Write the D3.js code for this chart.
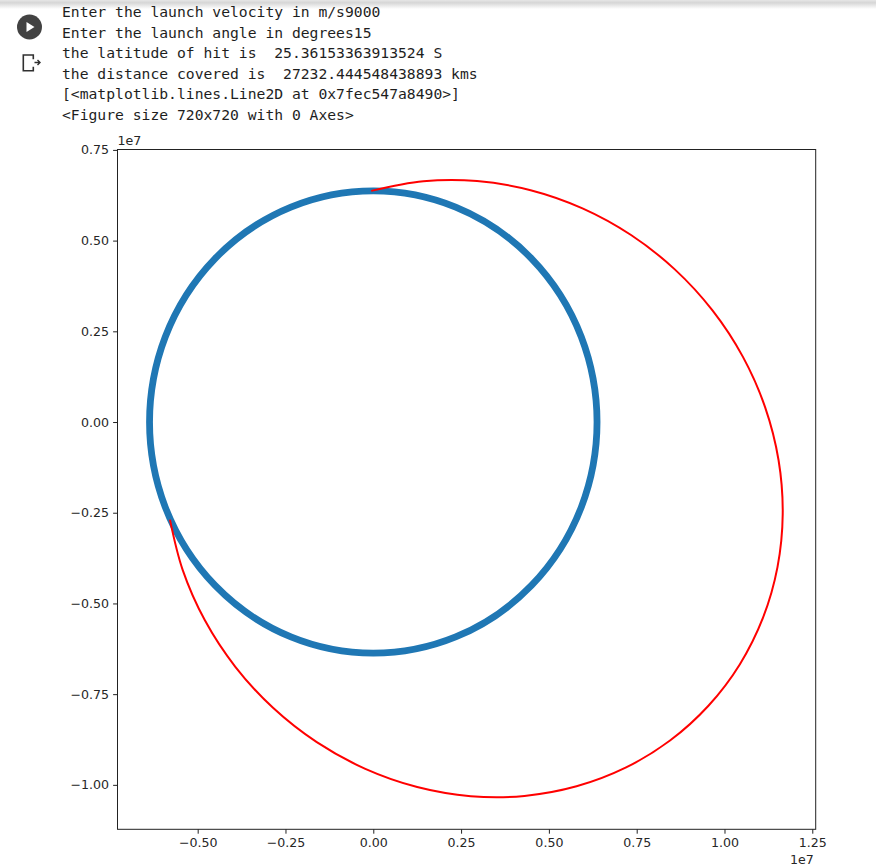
<!DOCTYPE html>
<html><head><meta charset="utf-8">
<script src="https://cdn.jsdelivr.net/npm/d3@7"></script>
<style>body{margin:0;background:#fff;overflow:hidden}</style>
</head><body>
<svg id="c" width="876" height="867"></svg>
<script>
// ---- data ----
const outputLines = [
  "Enter the launch velocity in m/s9000",
  "Enter the launch angle in degrees15",
  "the latitude of hit is  25.36153363913524 S",
  "the distance covered is  27232.444548438893 kms",
  "[<matplotlib.lines.Line2D at 0x7fec547a8490>]",
  "<Figure size 720x720 with 0 Axes>"
];
const xTicks = [-0.50, -0.25, 0.00, 0.25, 0.50, 0.75, 1.00, 1.25]; // x 1e7 m
const yTicks = [0.75, 0.50, 0.25, 0.00, -0.25, -0.50, -0.75, -1.00]; // x 1e7 m
const earthRadius = 6.371; // 1e6 m
// trajectory (1e6 m)
const trajX = [-0.058, 1.426, 2.955, 4.480, 5.957, 7.339, 8.585, 9.658, 10.525, 11.158, 11.540, 11.658, 11.509, 11.097, 10.435, 9.543, 8.449, 7.184, 5.788, 4.304, 2.775, 1.250, -0.227, -1.609, -2.855, -3.928, -4.795, -5.428, -5.79];
const trajY = [6.370, 6.634, 6.641, 6.390, 5.889, 5.154, 4.207, 3.076, 1.795, 0.404, -1.054, -2.537, -3.999, -5.394, -6.681, -7.820, -8.779, -9.527, -10.040, -10.304, -10.311, -10.060, -9.559, -8.824, -7.877, -6.746, -5.465, -4.074, -2.69];

const svg = d3.select("#c");

// top shadow
const defs = svg.append("defs");
const g = defs.append("linearGradient").attr("id","sh").attr("x1",0).attr("y1",0).attr("x2",0).attr("y2",1);
g.append("stop").attr("offset","0%").attr("stop-color","#e6e6e6");
g.append("stop").attr("offset","30%").attr("stop-color","#d6d6d6");
g.append("stop").attr("offset","100%").attr("stop-color","#ffffff");
svg.append("rect").attr("x",0).attr("y",0).attr("width",876).attr("height",9).attr("fill","url(#sh)");

// play button
svg.append("circle").attr("cx",29.5).attr("cy",27).attr("r",12.5).attr("fill","#424242");
svg.append("path").attr("d","M26.5,22 L26.5,32 L34.5,27 Z").attr("fill","#fff");
// output icon
svg.append("path").attr("d","M33.3,59.3 L33.3,55 L23.3,55 L23.3,70.7 L33.3,70.7 L33.3,66.7")
  .attr("fill","none").attr("stroke","#303030").attr("stroke-width",1.6);
svg.append("path").attr("d","M34.5,62.5 L40,62.5 M37.5,60 L40,62.5 L37.5,65")
  .attr("fill","none").attr("stroke","#303030").attr("stroke-width",1.4);

// output text
svg.selectAll("text.out").data(outputLines).enter().append("text")
  .attr("class","out")
  .attr("x",62).attr("y",(d,i)=>17+i*20.5)
  .attr("font-family","'DejaVu Sans Mono', monospace").attr("font-size","14.7px")
  .attr("fill","#1e1e1e").attr("xml:space","preserve").style("white-space","pre")
  .text(d=>d);

// ---- chart ----
const L=117.5, R=815.7, T=149.5, B=829.3;
const x = d3.scaleLinear().domain([-7.283, 12.597]).range([L, R]); // 1e6 m
const y = d3.scaleLinear().domain([-11.225, 7.511]).range([B, T]);

const fontTick = "'DejaVu Sans', sans-serif";
const fmt = v => (v<0?"\u2212":"") + Math.abs(v).toFixed(2);

// earth
svg.append("ellipse")
  .attr("cx",x(0)).attr("cy",y(0))
  .attr("rx",x(earthRadius)-x(0)).attr("ry",y(0)-y(earthRadius))
  .attr("fill","none").attr("stroke","#1f77b4").attr("stroke-width",6.8);

// trajectory
const pts = trajX.map((v,i)=>[v,trajY[i]]);
svg.append("path").datum(pts)
  .attr("d", d3.line().x(d=>x(d[0])).y(d=>y(d[1])).curve(d3.curveCatmullRom))
  .attr("fill","none").attr("stroke","#ff0000").attr("stroke-width",2);

// axes
const xAxis = d3.axisBottom(x).tickValues(xTicks.map(v=>v*10)).tickSize(4.4).tickPadding(4).tickFormat(v=>fmt(v/10));
const yAxis = d3.axisLeft(y).tickValues(yTicks.map(v=>v*10)).tickSize(4.4).tickPadding(4).tickFormat(v=>fmt(v/10));
const gx = svg.append("g").attr("transform",`translate(0,${B})`).call(xAxis);
const gy = svg.append("g").attr("transform",`translate(${L},0)`).call(yAxis);
[gx,gy].forEach(gg=>{
  gg.select(".domain").remove();
  gg.selectAll("line").attr("stroke","#222").attr("stroke-width",1);
  gg.selectAll("text").attr("font-family",fontTick).attr("font-size","12.6px").attr("fill","#262626");
});

// frame
svg.append("rect").attr("x",L).attr("y",T).attr("width",R-L).attr("height",B-T)
  .attr("fill","none").attr("stroke","#222").attr("stroke-width",1);

// offset labels
svg.append("text").attr("x",L).attr("y",145).attr("font-family",fontTick).attr("font-size","12.6px").attr("fill","#262626").text("1e7");
svg.append("text").attr("x",R-2).attr("y",864).attr("text-anchor","end").attr("font-family",fontTick).attr("font-size","12.6px").attr("fill","#262626").text("1e7");
</script>
</body></html>
